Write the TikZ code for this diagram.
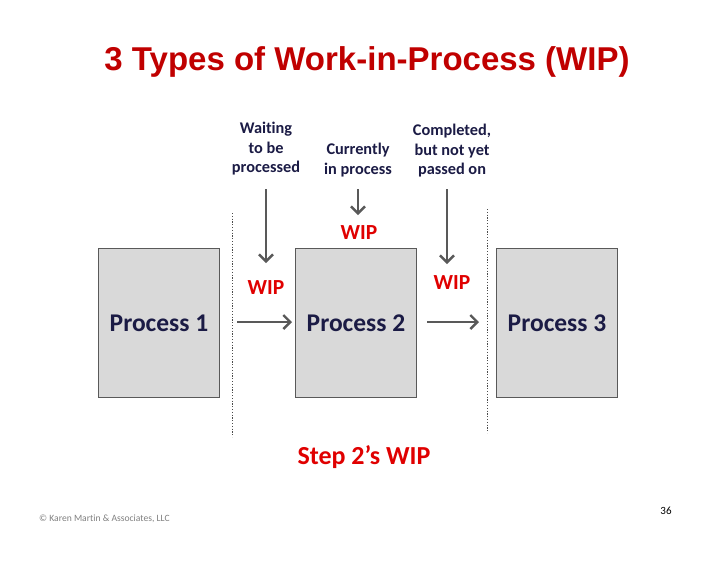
\documentclass[tikz,border=0pt]{standalone}
\usepackage{fontspec}
\setmainfont{Carlito}[Ligatures=NoCommon]
\newfontfamily\arialfont{Liberation Sans}
\usetikzlibrary{arrows.meta}
\definecolor{titlered}{HTML}{C00000}
\definecolor{wipred}{HTML}{E00000}
\definecolor{navy}{HTML}{1B1B45}
\definecolor{boxfill}{HTML}{D9D9D9}
\definecolor{boxline}{HTML}{595959}
\definecolor{arrowgray}{HTML}{595959}
\definecolor{footgray}{HTML}{808080}
\tikzset{
  procbox/.style={draw=boxline, line width=1pt, fill=boxfill, minimum width=121pt, minimum height=149pt, inner sep=0pt,
    font=\fontsize{25.5}{28}\selectfont\bfseries, text=navy},
  wiplabel/.style={font=\fontsize{21.5}{24}\selectfont\bfseries, text=wipred, inner sep=0pt},
  toplabel/.style={font=\fontsize{16.3}{19.5}\selectfont\bfseries, text=navy, align=center, inner sep=0pt},
  flow/.style={draw=arrowgray, line width=2.8pt, -{Straight Barb[length=7pt, width=14pt, line width=2.4pt]}},
  divider/.style={draw=black!70, line width=0.6pt, dash pattern=on 1.2pt off 1.6pt}
}
\begin{document}
\begin{tikzpicture}[x=1pt, y=-1pt]
\useasboundingbox[fill=white] (0,0) rectangle (728,563);
\node[font=\arialfont\fontsize{33}{36}\selectfont\bfseries, text=titlered, inner sep=0pt] (title) at (367,62) {3 Types of Work-in-Process (WIP)};
\node[procbox] (p1) at (159,323) {Process 1};
\node[procbox] (p2) at (356,323) {Process 2};
\node[procbox] (p3) at (557,323) {Process 3};
\coordinate (d1t) at (232,213); \coordinate (d1b) at (232,437);
\coordinate (d2t) at (487,209); \coordinate (d2b) at (487,433);
\draw[divider] (d1t) -- (d1b);
\draw[divider] (d2t) -- (d2b);
\node[toplabel] (lw) at (266,149) {Waiting\\to be\\processed};
\node[toplabel] (lc) at (358,160) {Currently\\in process};
\node[toplabel] (lp) at (452,151) {Completed,\\but not yet\\passed on};
\node[wiplabel] (w1) at (266,288) {WIP};
\node[wiplabel] (w2) at (359,233) {WIP};
\node[wiplabel] (w3) at (452,283) {WIP};
\coordinate (a1s) at (266,189); \coordinate (a1e) at (266,263);
\coordinate (a2s) at (358,189); \coordinate (a2e) at (358,215);
\coordinate (a3s) at (447,189); \coordinate (a3e) at (447,264);
\draw[flow] (a1s) -- (a1e);
\draw[flow] (a2s) -- (a2e);
\draw[flow] (a3s) -- (a3e);
\draw[flow] ([xshift=17pt]p1.east |- 0,322) -- ([xshift=-3pt]p2.west |- 0,322);
\draw[flow] ([xshift=10pt]p2.east |- 0,322) -- ([xshift=-17pt]p3.west |- 0,322);
\node[font=\fontsize{26}{30}\selectfont\bfseries, text=wipred, inner sep=0pt] (step) at (364,457) {Step 2’s WIP};
\node[font=\fontsize{9.6}{11}\selectfont, text=footgray, anchor=west, inner sep=0pt] (copy) at (39,519) {© Karen Martin \& Associates, LLC};
\node[font=\fontsize{11}{13}\selectfont, text=black, inner sep=0pt] (num) at (666,511) {36};
\end{tikzpicture}
\end{document}
